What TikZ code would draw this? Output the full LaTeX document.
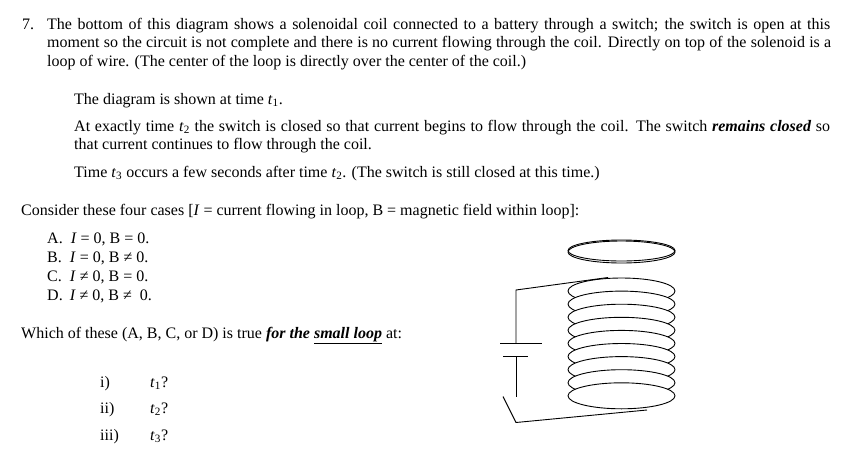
\documentclass[tikz,border=0pt]{standalone}
\usepackage{fontspec}
\setmainfont{Liberation Serif}
\newcommand{\tsub}[1]{\textit{t}\textsubscript{#1}}
\begin{document}
\begin{tikzpicture}[x=1pt,y=-1pt,
  txt/.style={anchor=base west,inner sep=0pt,font=\fontsize{16}{18}\selectfont},
  wire/.style={line width=0.9pt}]
\useasboundingbox (0,0) rectangle (863,453);
\node[txt] (n7) at (22,29) {7.};
\node[txt] (l1) at (47,29) {\makebox[783pt][s]{The bottom of this diagram shows a solenoidal coil connected to a battery through a switch; the switch is open at this}};
\node[txt] (l2) at (47,47.5) {\makebox[784pt][s]{moment so the circuit is not complete and there is no current flowing through the coil. Directly on top of the solenoid is a}};
\node[txt] (l3) at (47,66) {loop of wire. (The center of the loop is directly over the center of the coil.)};
\node[txt] (p1) at (74,104) {The diagram is shown at time \tsub{1}.};
\node[txt] (p2) at (74,131) {\makebox[756pt][s]{At exactly time \tsub{2} the switch is closed so that current begins to flow through the coil. The switch \textbf{\textit{remains closed}} so}};
\node[txt] (p2b) at (74,149) {that current continues to flow through the coil.};
\node[txt] (p3) at (74,177) {Time \tsub{3} occurs a few seconds after time \tsub{2}. (The switch is still closed at this time.)};
\node[txt] (c) at (21,215) {Consider these four cases [\textit{I} = current flowing in loop, B = magnetic field within loop]:};
\node[txt] (a) at (47,243) {A.\hspace{8pt}\textit{I} = 0, B = 0.};
\node[txt] (b) at (47,262) {B.\hspace{8pt}\textit{I} = 0, B ≠ 0.};
\node[txt] (cc) at (47,281) {C.\hspace{8pt}\textit{I} ≠ 0, B = 0.};
\node[txt] (d) at (47,300) {D.\hspace{7pt}\textit{I} ≠ 0, B ≠~ 0.};
\node[txt] (w) at (21,338) {Which of these (A, B, C, or D) is true \textbf{\textit{for the \underline{small loop}}} at:};
\node[txt] (i1) at (100,387) {i)};
\node[txt] (i2) at (100,413) {ii)};
\node[txt] (i3) at (100,440) {iii)};
\node[txt] (t1) at (150,387) {\tsub{1}?};
\node[txt] (t2) at (150,413) {\tsub{2}?};
\node[txt] (t3) at (150,440) {\tsub{3}?};
% loop
\draw[wire] (621.5,252) ellipse [x radius=53.5, y radius=11];
\draw[wire] (621.5,250.5) ellipse [x radius=53.5, y radius=10.5];
% coil
\foreach \k in {0,...,8} {
  \draw[wire, fill=white] (621.5,{291+13.1*\k}) ellipse [x radius=53.5, y radius=13];
}
% circuit
\coordinate (tw) at (608,277.5);
\coordinate (tl) at (516,290);
\coordinate (bl) at (516,396.5);
\coordinate (sw) at (516,422.5);
\coordinate (sa) at (503,396.5);
\coordinate (bw) at (647,410);
\draw[wire] (tw) -- (tl) -- (516,343);
\draw[wire] (500,343) -- (541.5,343);
\draw[wire] (503,356.5) -- (528,356.5);
\draw[wire] (516,356.5) -- (bl);
\draw[wire] (sa) -- (sw) -- (bw);
\end{tikzpicture}
\end{document}
